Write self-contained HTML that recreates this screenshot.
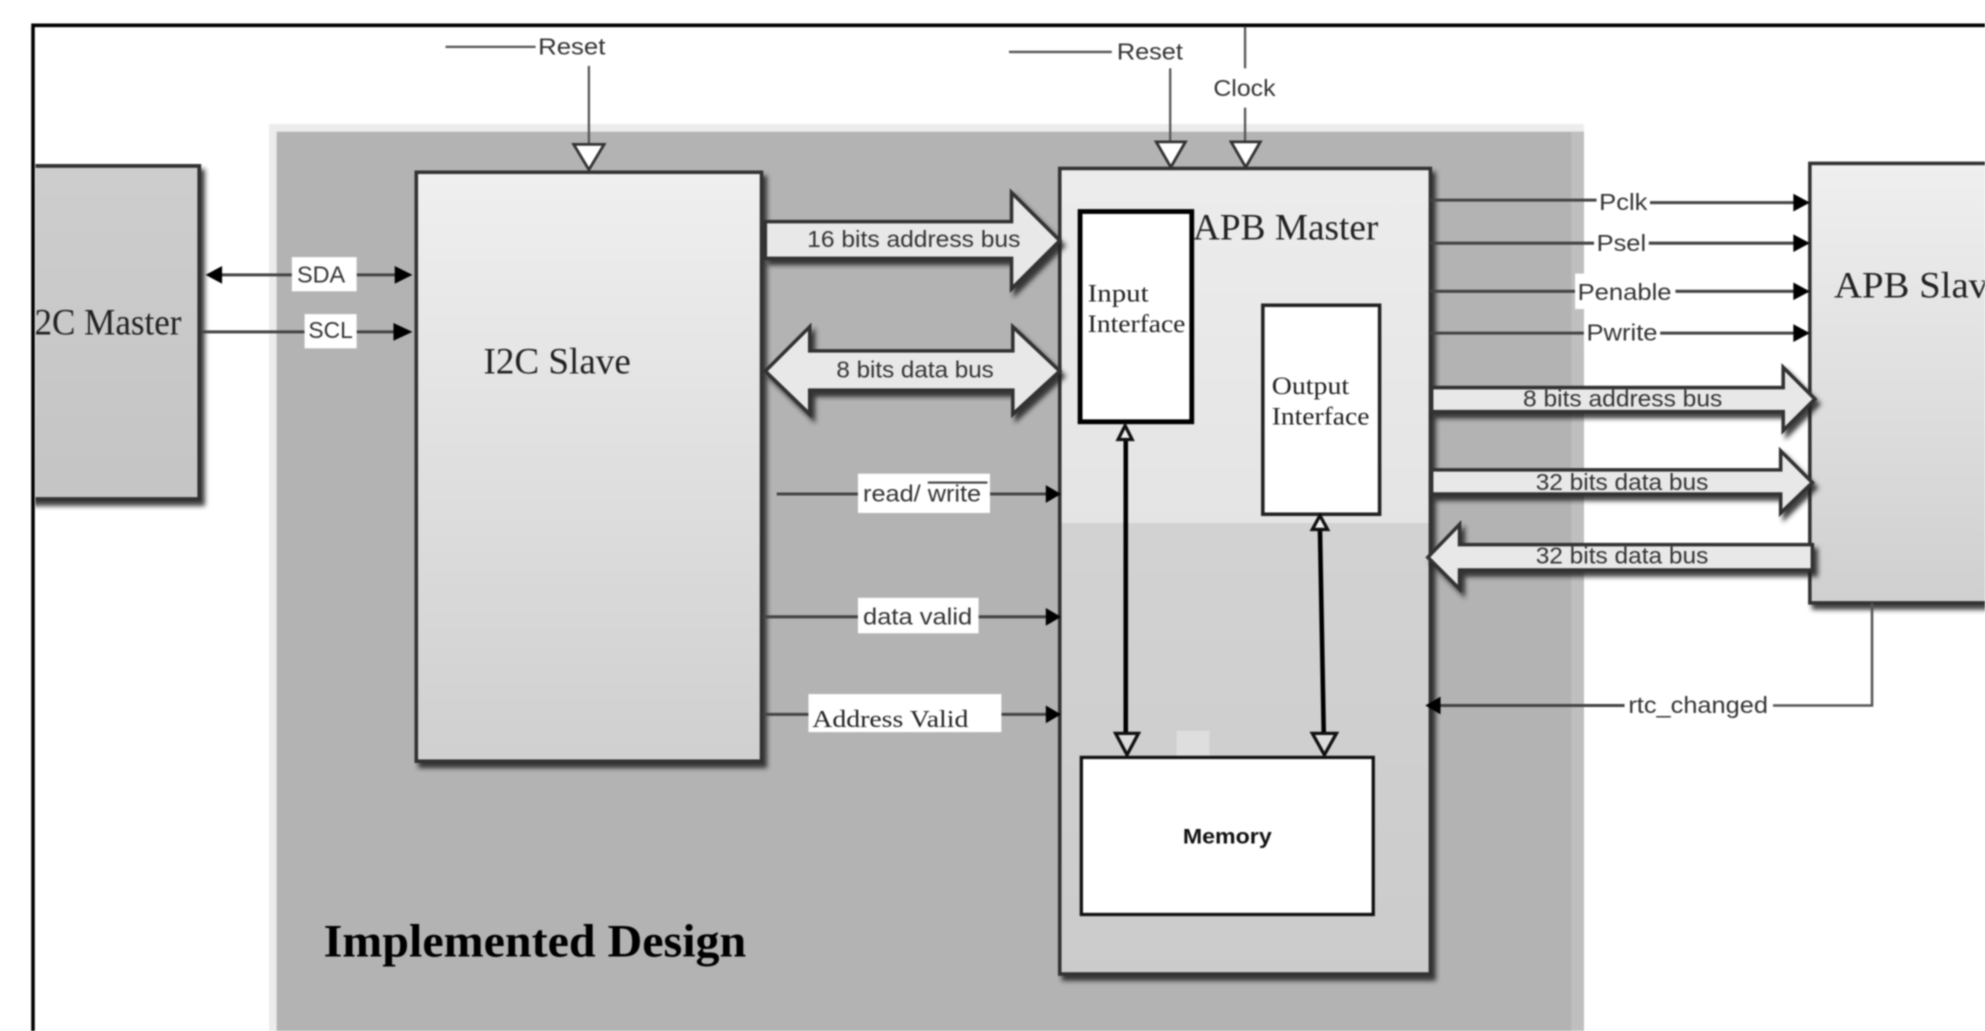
<!DOCTYPE html>
<html><head><meta charset="utf-8"><title>Implemented Design</title>
<style>
html,body{margin:0;padding:0;background:#fff;width:1985px;height:1031px;overflow:hidden}
svg{display:block;position:absolute;left:0;top:0;filter:blur(.9px)}
.s{font-family:"Liberation Sans",sans-serif;font-size:18px;fill:#333}
.r{font-family:"Liberation Serif",serif;fill:#222}
</style></head><body>
<svg width="1985" height="1031" viewBox="0 0 1564 814" preserveAspectRatio="none" xmlns="http://www.w3.org/2000/svg">
<defs>
<linearGradient id="g1" x1="0" y1="0" x2="0" y2="1"><stop offset="0" stop-color="#efefef"/><stop offset="1" stop-color="#cfcfcf"/></linearGradient>
<linearGradient id="g2" x1="0" y1="0" x2="0" y2="1"><stop offset="0" stop-color="#cdcdcd"/><stop offset="1" stop-color="#c4c4c4"/></linearGradient>
<linearGradient id="g3" x1="0" y1="0" x2="0" y2="1"><stop offset="0" stop-color="#ececec"/><stop offset=".44" stop-color="#e4e4e4"/><stop offset=".44" stop-color="#d2d2d2"/><stop offset="1" stop-color="#cbcbcb"/></linearGradient>
<filter id="sh" x="-10%" y="-10%" width="125%" height="125%"><feDropShadow dx="3" dy="4" stdDeviation="1.8" flood-color="#222" flood-opacity=".85"/></filter>
<clipPath id="c1"><rect x="28" y="0" width="1536" height="814"/></clipPath>
</defs>
<rect width="1564" height="814" fill="#fff"/>
<rect x="212" y="98" width="1036" height="716" fill="#ececec"/>
<rect x="218" y="104" width="1030" height="710" fill="#b3b3b3"/>
<rect x="1238" y="104" width="10" height="710" fill="#bfbfbf"/>
<path d="M26 814V20H1564" fill="none" stroke="#000" stroke-width="2.8"/>

<g clip-path="url(#c1)">
<rect x="10" y="131" width="147" height="263" fill="url(#g2)" stroke="#333" stroke-width="3" filter="url(#sh)"/>
<text class="r" x="18" y="264" font-size="29" textLength="125" lengthAdjust="spacingAndGlyphs">I2C Master</text>
</g>

<rect x="328" y="136" width="272" height="465" fill="url(#g1)" stroke="#333" stroke-width="2.8" filter="url(#sh)"/>
<text class="r" x="381" y="295" font-size="29" textLength="116" lengthAdjust="spacingAndGlyphs">I2C Slave</text>

<rect x="835" y="133" width="292" height="636" fill="url(#g3)" stroke="#333" stroke-width="2.8" filter="url(#sh)"/>
<rect x="927" y="577" width="26" height="20" fill="#dedede"/>

<rect x="1426" y="129" width="150" height="347" fill="url(#g1)" stroke="#333" stroke-width="2.8" filter="url(#sh)"/>
<text class="r" x="1445" y="235" font-size="29" textLength="135" lengthAdjust="spacingAndGlyphs">APB Slave</text>

<rect x="851" y="167" width="88" height="166" fill="#fff" stroke="#000" stroke-width="3.8"/>
<rect x="995" y="241" width="92" height="165" fill="#fff" stroke="#222" stroke-width="2.8"/>
<rect x="852" y="598" width="230" height="124" fill="#fff" stroke="#111" stroke-width="2.6"/>

<text class="r" x="940" y="189" font-size="29" textLength="146" lengthAdjust="spacingAndGlyphs">APB Master</text>
<text class="r" x="857" y="238" font-size="20" textLength="48" lengthAdjust="spacingAndGlyphs">Input</text>
<text class="r" x="857" y="262" font-size="20" textLength="77" lengthAdjust="spacingAndGlyphs">Interface</text>
<text class="r" x="1002" y="311" font-size="20" textLength="61" lengthAdjust="spacingAndGlyphs">Output</text>
<text class="r" x="1002" y="335" font-size="20" textLength="77" lengthAdjust="spacingAndGlyphs">Interface</text>
<text x="932" y="666" font-family="Liberation Sans, sans-serif" font-weight="700" font-size="17" fill="#111" textLength="70" lengthAdjust="spacingAndGlyphs">Memory</text>
<text x="255" y="755" font-family="Liberation Serif, serif" font-weight="700" font-size="37" fill="#000" textLength="333" lengthAdjust="spacingAndGlyphs">Implemented Design</text>

<!-- top connectors -->
<g fill="none" stroke="#555" stroke-width="1.8">
<path d="M351 37H422M464 52V116"/>
<path d="M795 41H876M922 54V114"/>
<path d="M981 21V54M981 85V114"/>
</g>
<g fill="#fff" stroke="#333" stroke-width="2.2">
<path d="M452 114H476L464 134Z"/>
<path d="M911 112H934L922.500 132Z"/>
<path d="M970 112H993L981.500 132Z"/>
</g>
<text class="s" x="424" y="43" textLength="53" lengthAdjust="spacingAndGlyphs">Reset</text>
<text class="s" x="880" y="47" textLength="52" lengthAdjust="spacingAndGlyphs">Reset</text>
<text class="s" x="956" y="76" textLength="49" lengthAdjust="spacingAndGlyphs">Clock</text>

<!-- signal lines -->
<g fill="none" stroke="#444" stroke-width="2.4">
<path d="M172 217H230M281 217H314"/>
<path d="M159 262H240M281 262H312"/>
<path d="M612 390H676M780 390H826"/>
<path d="M601 487H676M771 487H826"/>
<path d="M601 564H637M789 564H826"/>
<path d="M1127 158H1258M1300 160H1415"/>
<path d="M1127 192H1256M1299 192H1415"/>
<path d="M1127 230H1241M1320 230H1415"/>
<path d="M1127 263H1248M1308 263H1415"/>
<path d="M1280 557H1133"/>
</g>
<path d="M1475 476V557H1397" fill="none" stroke="#555" stroke-width="2"/>
<g fill="#000">
<path d="M162 217L175 210V224Z"/>
<path d="M325 217L311 210V224Z"/>
<path d="M325 262L310 255V269Z"/>
<path d="M836 390L824 383V397Z"/>
<path d="M836 487L824 480V494Z"/>
<path d="M836 564L824 557V571Z"/>
<path d="M1426 160L1413 153V167Z"/>
<path d="M1426 192L1413 185V199Z"/>
<path d="M1426 230L1413 223V237Z"/>
<path d="M1426 263L1413 256V270Z"/>
<path d="M1123 557L1135 550V564Z"/>
</g>
<g fill="#fff">
<rect x="230" y="203" width="51" height="27"/>
<rect x="240" y="248" width="41" height="27"/>
<rect x="676" y="374" width="104" height="31"/>
<rect x="676" y="472" width="95" height="28"/>
<rect x="637" y="548" width="152" height="30"/>
<rect x="1258" y="150" width="42" height="22"/>
<rect x="1256" y="182" width="43" height="22"/>
<rect x="1241" y="216" width="79" height="28"/>
<rect x="1248" y="253" width="60" height="22"/>
</g>
<text class="s" x="234" y="223" textLength="38" lengthAdjust="spacingAndGlyphs">SDA</text>
<text class="s" x="243" y="267" textLength="35" lengthAdjust="spacingAndGlyphs">SCL</text>
<text class="s" x="680" y="396" textLength="93" lengthAdjust="spacingAndGlyphs">read/ write</text>
<path d="M731 381H778" stroke="#444" stroke-width="1.6"/>
<text class="s" x="680" y="493" textLength="86" lengthAdjust="spacingAndGlyphs">data valid</text>
<text class="r" x="640" y="574" font-size="19" textLength="123" lengthAdjust="spacingAndGlyphs">Address Valid</text>
<text class="s" x="1260" y="166" textLength="38" lengthAdjust="spacingAndGlyphs">Pclk</text>
<text class="s" x="1258" y="198" textLength="39" lengthAdjust="spacingAndGlyphs">Psel</text>
<text class="s" x="1243" y="237" textLength="74" lengthAdjust="spacingAndGlyphs">Penable</text>
<text class="s" x="1250" y="269" textLength="56" lengthAdjust="spacingAndGlyphs">Pwrite</text>
<text class="s" x="1283" y="563" textLength="110" lengthAdjust="spacingAndGlyphs">rtc_changed</text>

<!-- block arrows -->
<g fill="#e8e8e8" stroke="#333" stroke-width="2.8" filter="url(#sh)">
<path d="M603 175H797V152L835 190L797 228V204H603Z"/>
<path d="M603 293L638 258V277H798V258L835 293L798 327V308H638V327Z"/>
<path d="M1128 306H1405V290L1430 315L1405 340V325H1128Z"/>
<path d="M1128 371H1403V356L1428 381L1403 405V390H1128Z"/>
<path d="M1428 430H1150V414L1125 440L1150 465V450H1428Z"/>
</g>
<g class="s">
<text class="s" x="636" y="195" textLength="168" lengthAdjust="spacingAndGlyphs">16 bits address bus</text>
<text class="s" x="659" y="298" textLength="124" lengthAdjust="spacingAndGlyphs">8 bits data bus</text>
<text class="s" x="1200" y="321" textLength="157" lengthAdjust="spacingAndGlyphs">8 bits address bus</text>
<text class="s" x="1210" y="387" textLength="136" lengthAdjust="spacingAndGlyphs">32 bits data bus</text>
<text class="s" x="1210" y="445" textLength="136" lengthAdjust="spacingAndGlyphs">32 bits data bus</text>
</g>

<!-- internal arrows -->
<g fill="none" stroke="#000" stroke-width="3.6">
<path d="M887 346V579"/>
<path d="M1040 417L1043 579"/>
</g>
<g fill="#eee" stroke="#111" stroke-width="2.6">
<path d="M886.500 336L892 347H881Z"/>
<path d="M1040 407L1046 418H1034Z"/>
<path d="M879 579H897L888 596Z" fill="#ddd"/>
<path d="M1034 579H1053L1043.500 596Z" fill="#ddd"/>
</g>
</svg>
</body></html>
